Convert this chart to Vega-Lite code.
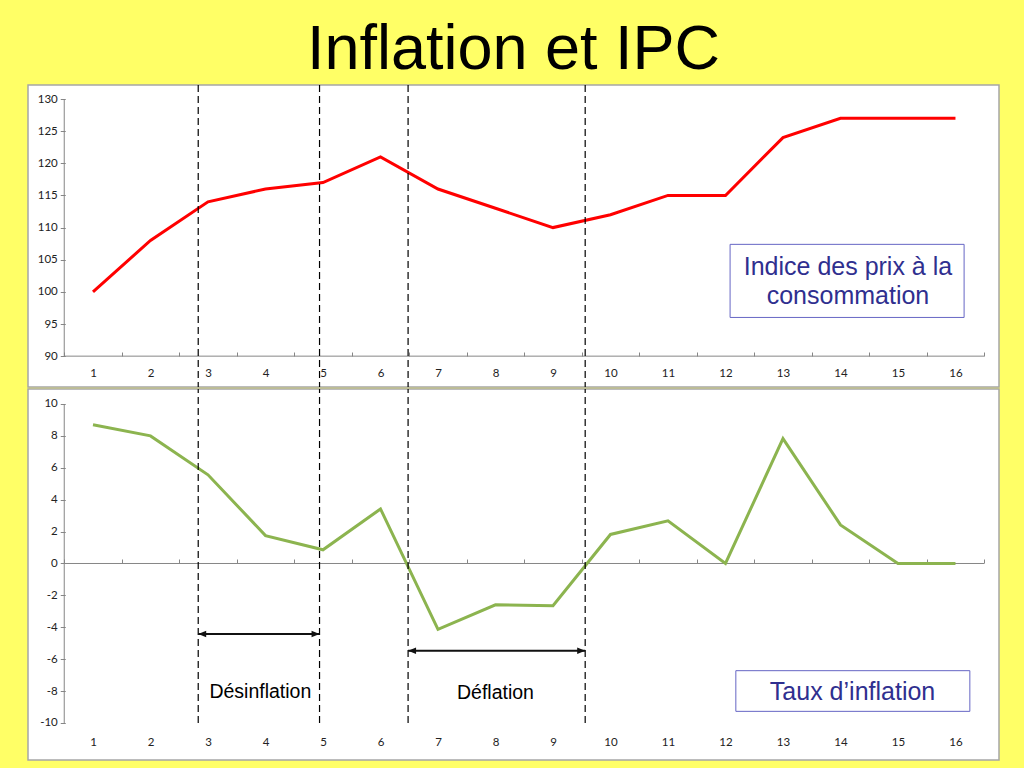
{
  "$schema": "https://vega.github.io/schema/vega-lite/v6.json",
  "background": "#FFFF66",
  "padding": {"left": 27, "top": 18, "right": 26, "bottom": 8},
  "bounds": "flush",
  "title": {
    "text": "Inflation et IPC",
    "font": "Liberation Sans",
    "fontSize": 63,
    "fontWeight": "normal",
    "color": "#000000",
    "anchor": "middle",
    "baseline": "top",
    "offset": 2
  },
  "datasets": {
    "series": [
      {"t": 1, "ipc": 100, "infl": 8.7},
      {"t": 2, "ipc": 108, "infl": 8.0},
      {"t": 3, "ipc": 114, "infl": 5.56},
      {"t": 4, "ipc": 116, "infl": 1.75},
      {"t": 5, "ipc": 117, "infl": 0.86},
      {"t": 6, "ipc": 121, "infl": 3.42},
      {"t": 7, "ipc": 116, "infl": -4.13},
      {"t": 8, "ipc": 113, "infl": -2.59},
      {"t": 9, "ipc": 110, "infl": -2.65},
      {"t": 10, "ipc": 112, "infl": 1.82},
      {"t": 11, "ipc": 115, "infl": 2.68},
      {"t": 12, "ipc": 115, "infl": 0},
      {"t": 13, "ipc": 124, "infl": 7.83},
      {"t": 14, "ipc": 127, "infl": 2.42},
      {"t": 15, "ipc": 127, "infl": 0},
      {"t": 16, "ipc": 127, "infl": 0}
    ],
    "phases": [{"x": 2.83}, {"x": 4.94}, {"x": 6.48}, {"x": 9.56}],
    "frameTop": [
      {"x": 0.5, "x2": 0.5, "y": 90, "y2": 130},
      {"x": 0.5, "x2": 16.5, "y": 90, "y2": 90}
    ],
    "frameBottom": [
      {"x": 0.5, "x2": 0.5, "y": -10, "y2": 10},
      {"x": 0.5, "x2": 16.5, "y": 0, "y2": 0}
    ],
    "arrows": [
      {"from": 2.83, "to": 4.94, "y": -4.42, "label": "Désinflation", "lx": 3.91, "ly": -8.04},
      {"from": 6.48, "to": 9.56, "y": -5.47, "label": "Déflation", "lx": 8.0, "ly": -8.1}
    ],
    "boxTop": [
      {"x": 12.08, "x2": 16.15, "y": 107.39, "y2": 96.02, "tx": 14.13, "ty": 103.9, "text": "Indice des prix à la|consommation"}
    ],
    "boxBottom": [
      {"x": 12.18, "x2": 16.25, "y": -6.72, "y2": -9.27, "tx": 14.21, "ty": -8.04, "text": "Taux d’inflation"}
    ]
  },
  "spacing": 2,
  "vconcat": [
    {
      "width": 971,
      "height": 302,
      "layer": [
        {
          "data": {"name": "frameTop"},
          "mark": {"type": "rule", "color": "#868686", "strokeWidth": 1},
          "encoding": {
            "x": {
              "field": "x", "type": "quantitative",
              "scale": {"domain": [-0.1304, 16.757], "nice": false, "zero": false},
              "axis": {
                "values": [0.5, 1, 1.5, 2, 2.5, 3, 3.5, 4, 4.5, 5, 5.5, 6, 6.5, 7, 7.5, 8, 8.5, 9, 9.5, 10, 10.5, 11, 11.5, 12, 12.5, 13, 13.5, 14, 14.5, 15, 15.5, 16, 16.5],
                "tickCount": 100,
                "offset": -31,
                "domain": false,
                "grid": false,
                "tickSize": -4,
                "tickColor": "#868686",
                "tickOpacity": {"condition": {"test": "datum.value % 1 === 0", "value": 0}, "value": 1},
                "labelExpr": "datum.value % 1 === 0 ? '' + datum.value : ''",
                "labelPadding": 15,
                "labelFont": "Lato",
                "labelFontSize": 11.5,
                "labelColor": "#222222",
                "labelOverlap": false,
                "labelFlush": false,
                "title": null
              }
            },
            "x2": {"field": "x2"},
            "y": {
              "field": "y", "type": "quantitative",
              "scale": {"domain": [85.2, 132.18], "nice": false, "zero": false},
              "axis": {
                "values": [90, 95, 100, 105, 110, 115, 120, 125, 130],
                "tickCount": 100,
                "offset": -37.25,
                "domain": false,
                "grid": false,
                "tickSize": 5,
                "tickColor": "#868686",
                "labelPadding": 3,
                "labelExpr": "'' + datum.value",
                "labelFont": "Lato",
                "labelFontSize": 11.5,
                "labelColor": "#222222",
                "labelOverlap": false,
                "title": null
              }
            },
            "y2": {"field": "y2"}
          }
        },
        {
          "data": {"name": "series"},
          "mark": {"type": "line", "color": "#FF0000", "strokeWidth": 3},
          "encoding": {
            "x": {"field": "t", "type": "quantitative"},
            "y": {"field": "ipc", "type": "quantitative"}
          }
        },
        {
          "data": {"name": "phases"},
          "mark": {"type": "rule", "color": "#000000", "strokeWidth": 1.2, "strokeDash": [7, 4]},
          "encoding": {
            "x": {"field": "x", "type": "quantitative"}
          }
        },
        {
          "data": {"name": "boxTop"},
          "mark": {"type": "rect", "fill": "#FFFFFF", "stroke": "#6666C4", "strokeWidth": 1},
          "encoding": {
            "x": {"field": "x", "type": "quantitative"},
            "x2": {"field": "x2"},
            "y": {"field": "y", "type": "quantitative"},
            "y2": {"field": "y2"}
          }
        },
        {
          "data": {"name": "boxTop"},
          "mark": {"type": "text", "font": "Liberation Sans", "fontSize": 25, "color": "#2F2F8F", "lineBreak": "|", "lineHeight": 29, "align": "center", "baseline": "middle"},
          "encoding": {
            "x": {"field": "tx", "type": "quantitative"},
            "y": {"field": "ty", "type": "quantitative"},
            "text": {"field": "text"}
          }
        }
      ]
    },
    {
      "width": 971,
      "height": 371,
      "layer": [
        {
          "data": {"name": "frameBottom"},
          "mark": {"type": "rule", "color": "#868686", "strokeWidth": 1},
          "encoding": {
            "x": {
              "field": "x", "type": "quantitative",
              "scale": {"domain": [-0.1304, 16.757], "nice": false, "zero": false},
              "axis": {
                "values": [0.5, 1, 1.5, 2, 2.5, 3, 3.5, 4, 4.5, 5, 5.5, 6, 6.5, 7, 7.5, 8, 8.5, 9, 9.5, 10, 10.5, 11, 11.5, 12, 12.5, 13, 13.5, 14, 14.5, 15, 15.5, 16, 16.5],
                "tickCount": 100,
                "offset": -197,
                "domain": false,
                "grid": false,
                "tickSize": -4,
                "tickColor": "#868686",
                "tickOpacity": {"condition": {"test": "datum.value % 1 === 0", "value": 0}, "value": 1},
                "labelExpr": "datum.value % 1 === 0 ? '' + datum.value : ''",
                "labelPadding": 177,
                "labelFont": "Lato",
                "labelFontSize": 11.5,
                "labelColor": "#222222",
                "labelOverlap": false,
                "labelFlush": false,
                "title": null
              }
            },
            "x2": {"field": "x2"},
            "y": {
              "field": "y", "type": "quantitative",
              "scale": {"domain": [-12.32, 10.94], "nice": false, "zero": false},
              "axis": {
                "values": [-10, -8, -6, -4, -2, 0, 2, 4, 6, 8, 10],
                "tickCount": 100,
                "offset": -37.25,
                "domain": false,
                "grid": false,
                "tickSize": 5,
                "tickColor": "#868686",
                "labelPadding": 3,
                "labelExpr": "datum.value < 0 ? '-' + abs(datum.value) : '' + datum.value",
                "labelFont": "Lato",
                "labelFontSize": 11.5,
                "labelColor": "#222222",
                "labelOverlap": false,
                "title": null
              }
            },
            "y2": {"field": "y2"}
          }
        },
        {
          "data": {"name": "series"},
          "mark": {"type": "line", "color": "#8CB44F", "strokeWidth": 3},
          "encoding": {
            "x": {"field": "t", "type": "quantitative"},
            "y": {"field": "infl", "type": "quantitative"}
          }
        },
        {
          "data": {"name": "phases"},
          "mark": {"type": "rule", "color": "#000000", "strokeWidth": 1.2, "strokeDash": [7, 4]},
          "encoding": {
            "x": {"field": "x", "type": "quantitative"},
            "y": {"datum": -10},
            "y2": {"datum": 10.94}
          }
        },
        {
          "data": {"name": "arrows"},
          "mark": {"type": "rule", "color": "#111111", "strokeWidth": 2},
          "encoding": {
            "x": {"field": "from", "type": "quantitative"},
            "x2": {"field": "to"},
            "y": {"field": "y", "type": "quantitative"}
          }
        },
        {
          "data": {"name": "arrows"},
          "mark": {"type": "point", "shape": "M0,0L2,-0.8L2,0.8Z", "size": 64, "filled": true, "color": "#111111", "opacity": 1},
          "encoding": {
            "x": {"field": "from", "type": "quantitative"},
            "y": {"field": "y", "type": "quantitative"}
          }
        },
        {
          "data": {"name": "arrows"},
          "mark": {"type": "point", "shape": "M0,0L-2,-0.8L-2,0.8Z", "size": 64, "filled": true, "color": "#111111", "opacity": 1},
          "encoding": {
            "x": {"field": "to", "type": "quantitative"},
            "y": {"field": "y", "type": "quantitative"}
          }
        },
        {
          "data": {"name": "arrows"},
          "mark": {"type": "text", "font": "Liberation Sans", "fontSize": 19.5, "color": "#000000", "align": "center", "baseline": "middle"},
          "encoding": {
            "x": {"field": "lx", "type": "quantitative"},
            "y": {"field": "ly", "type": "quantitative"},
            "text": {"field": "label"}
          }
        },
        {
          "data": {"name": "boxBottom"},
          "mark": {"type": "rect", "fill": "#FFFFFF", "stroke": "#6666C4", "strokeWidth": 1},
          "encoding": {
            "x": {"field": "x", "type": "quantitative"},
            "x2": {"field": "x2"},
            "y": {"field": "y", "type": "quantitative"},
            "y2": {"field": "y2"}
          }
        },
        {
          "data": {"name": "boxBottom"},
          "mark": {"type": "text", "font": "Liberation Sans", "fontSize": 25, "color": "#2F2F8F", "align": "center", "baseline": "middle"},
          "encoding": {
            "x": {"field": "tx", "type": "quantitative"},
            "y": {"field": "ty", "type": "quantitative"},
            "text": {"field": "text"}
          }
        }
      ]
    }
  ],
  "config": {
    "axis": {"labelOverlap": false},
    "view": {"fill": "#FFFFFF", "stroke": "#A6A6A6", "strokeWidth": 1.5}
  }
}
